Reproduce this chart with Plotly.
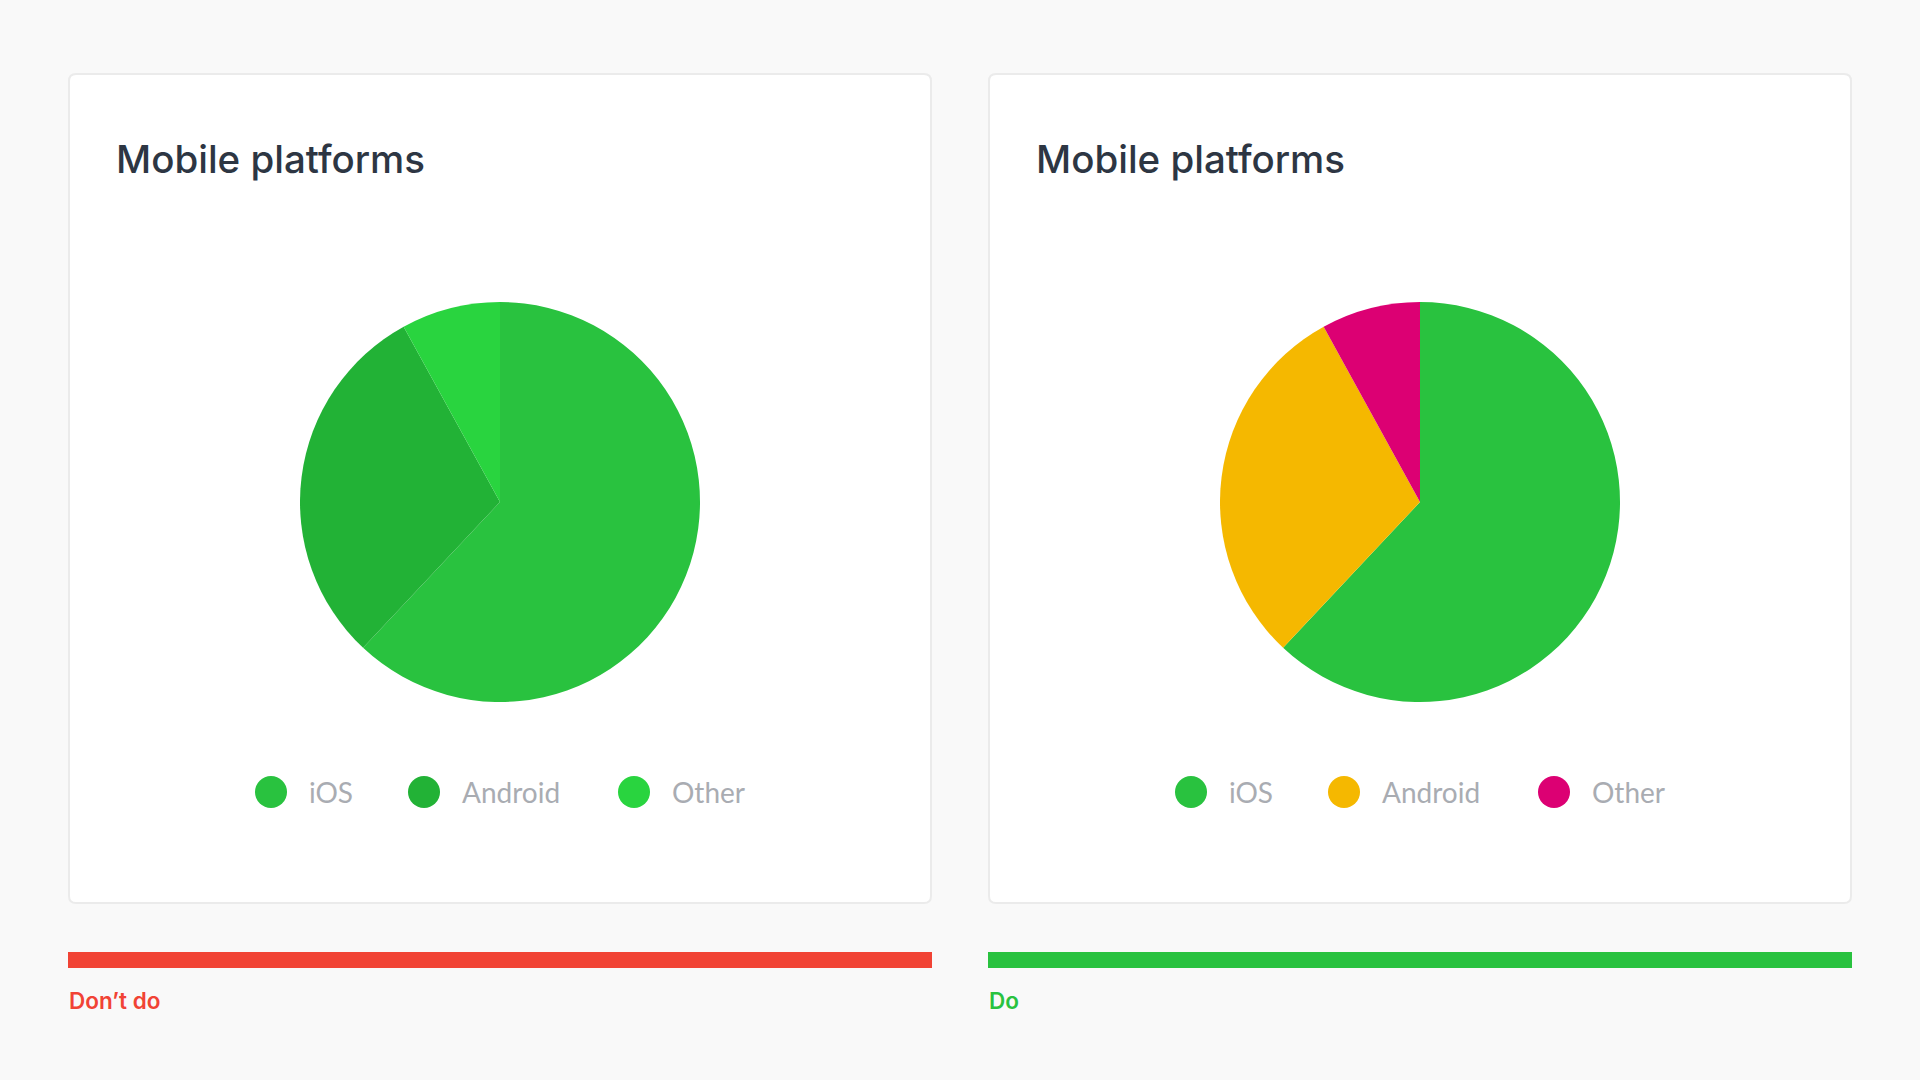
import plotly.graph_objects as go

W, H = 1920, 1080

# ---- data ----
categories = ["iOS", "Android", "Other"]
shares = [62, 30, 8]
panel_titles = ["Mobile platforms", "Mobile platforms"]
colors_bad = ["#29c23f", "#22b236", "#29d43f"]
colors_good = ["#29c23f", "#f5b800", "#dc0073"]
verdicts = ["Don’t do", "Do"]
verdict_colors = ["#f14335", "#29c23f"]

# ---- layout geometry (pixels) ----
cards = [(69, 74, 931, 903), (989, 74, 1851, 903)]
pie_r = 200
pie_cy = 502
legend_y = 792
legend_offsets = [-229, -76, 134]
text_gap = 36


def px(x):
    return x / W


def py(y):
    return 1 - y / H


def rounded_rect(x0, y0, x1, y1, r):
    X0, X1 = px(x0), px(x1)
    Y0, Y1 = py(y0), py(y1)
    rx, ry = r / W, r / H
    return (f"M {X0+rx},{Y0} L {X1-rx},{Y0} Q {X1},{Y0} {X1},{Y0-ry} "
            f"L {X1},{Y1+ry} Q {X1},{Y1} {X1-rx},{Y1} L {X0+rx},{Y1} "
            f"Q {X0},{Y1} {X0},{Y1+ry} L {X0},{Y0-ry} Q {X0},{Y0} {X0+rx},{Y0} Z")


fig = go.Figure()
shapes = []
annotations = []

for i, (card, cols) in enumerate(zip(cards, [colors_bad, colors_good])):
    x0, y0, x1, y1 = card
    cx = (x0 + x1) / 2
    # card
    shapes.append(dict(type="path", path=rounded_rect(x0, y0, x1, y1, 7),
                       xref="paper", yref="paper", fillcolor="#ffffff",
                       line=dict(color="#ebebeb", width=2), layer="below"))
    # pie
    fig.add_trace(go.Pie(
        labels=categories, values=shares, sort=False, direction="clockwise",
        rotation=0, marker=dict(colors=cols, line=dict(width=0)),
        textinfo="none", hoverinfo="label+percent", showlegend=False,
        domain=dict(x=[px(cx - pie_r), px(cx + pie_r)],
                    y=[py(pie_cy + pie_r), py(pie_cy - pie_r)]),
    ))
    # title
    annotations.append(dict(text=panel_titles[i], xref="paper", yref="paper",
                            x=px(x0 + 45), y=py(159), xanchor="left", yanchor="middle",
                            showarrow=False,
                            font=dict(family="Inter", size=38.5, color="#2d3643", weight=500)))
    # legend
    for cat, col, off in zip(categories, cols, legend_offsets):
        mx = cx + off
        shapes.append(dict(type="circle", xref="paper", yref="paper",
                           x0=px(mx - 16), x1=px(mx + 16),
                           y0=py(legend_y + 16), y1=py(legend_y - 16),
                           fillcolor=col, line=dict(width=0)))
        annotations.append(dict(text=cat, xref="paper", yref="paper",
                                x=px(mx + text_gap), y=py(legend_y), xanchor="left",
                                yanchor="middle", showarrow=False,
                                font=dict(family="Lato", size=28, color="#a9acb2")))
    # verdict bar
    shapes.append(dict(type="rect", xref="paper", yref="paper",
                       x0=px(x0 - 1), x1=px(x1 + 1), y0=py(968), y1=py(952),
                       fillcolor=verdict_colors[i], line=dict(width=0)))
    annotations.append(dict(text=verdicts[i], xref="paper", yref="paper",
                            x=px(x0 - 2), y=py(1000), xanchor="left", yanchor="middle",
                            showarrow=False,
                            font=dict(family="Inter", size=22.5, color=verdict_colors[i],
                                      weight=600)))

fig.update_layout(
    width=W, height=H, margin=dict(l=0, r=0, t=0, b=0),
    paper_bgcolor="#f9f9f9", plot_bgcolor="#f9f9f9",
    shapes=shapes, annotations=annotations,
)

fig.write_html("out.html", config={"displayModeBar": False})
